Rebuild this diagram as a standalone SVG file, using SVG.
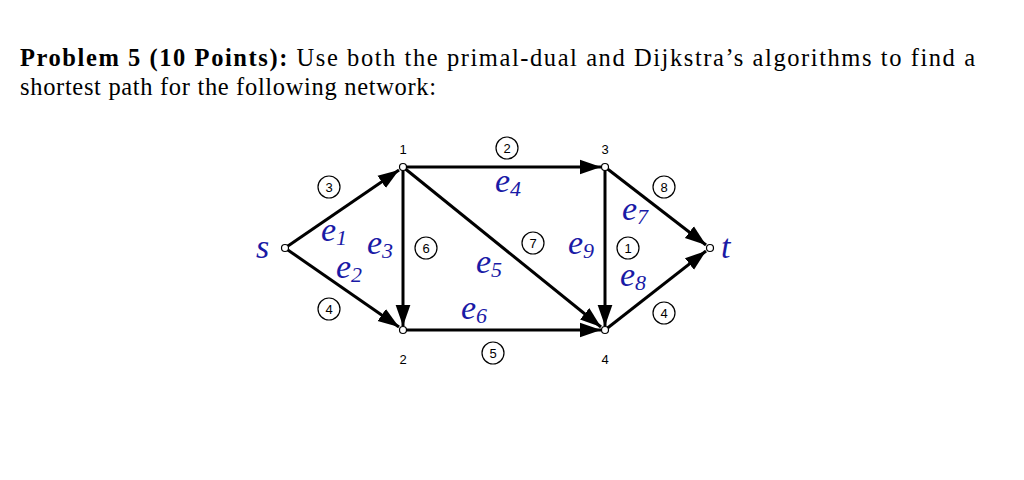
<svg xmlns="http://www.w3.org/2000/svg" width="1024" height="480" viewBox="0 0 1024 480">
<style>
.hd{font-family:"Liberation Serif",serif;font-size:24.5px;fill:#000}
.e{stroke:#000;stroke-width:3;fill:none}
.n{fill:#fff;stroke:#000;stroke-width:1.2}
.w{fill:#fff;stroke:#000;stroke-width:1.2}
.wt{font-family:"Liberation Sans",sans-serif;font-size:13px;text-anchor:middle;fill:#000}
.nl{font-family:"Liberation Sans",sans-serif;font-size:13px;text-anchor:middle;fill:#000}
.el{font-family:"Liberation Serif",serif;font-style:italic;font-size:34px;fill:#1a1aa6}
.sub{font-size:22px}
</style>
<defs>
<marker id="ah" viewBox="0 0 10 10" refX="10" refY="5" markerWidth="7" markerHeight="7" markerUnits="strokeWidth" orient="auto">
<path d="M0,1.5 L10,5 L0,8.5 z" fill="#000"/>
</marker>
</defs>
<rect width="1024" height="480" fill="#fff"/>
<text class="hd" x="20" y="66" textLength="955" lengthAdjust="spacing"><tspan font-weight="bold">Problem 5 (10 Points):</tspan> Use both the primal-dual and Dijkstra’s algorithms to find a</text>
<text class="hd" x="20" y="95" textLength="416" lengthAdjust="spacing">shortest path for the following network:</text>
<g id="edges">
<line class="e" x1="285" y1="248" x2="399" y2="170" marker-end="url(#ah)"/>
<line class="e" x1="285" y1="248" x2="399" y2="327" marker-end="url(#ah)"/>
<line class="e" x1="403" y1="167" x2="403" y2="326" marker-end="url(#ah)"/>
<line class="e" x1="403" y1="167" x2="601" y2="167" marker-end="url(#ah)"/>
<line class="e" x1="403" y1="167" x2="601" y2="327" marker-end="url(#ah)"/>
<line class="e" x1="403" y1="330" x2="601" y2="330" marker-end="url(#ah)"/>
<line class="e" x1="605" y1="167" x2="706" y2="245" marker-end="url(#ah)"/>
<line class="e" x1="605" y1="330" x2="706" y2="251" marker-end="url(#ah)"/>
<line class="e" x1="605" y1="167" x2="605" y2="326" marker-end="url(#ah)"/>
</g>
<g id="s"><circle class="n" cx="285" cy="248" r="3.5"/><text class="el" x="256" y="258">s</text></g>
<g id="n1"><circle class="n" cx="403" cy="167" r="3.5"/><text class="nl" x="403" y="154">1</text></g>
<g id="n2"><circle class="n" cx="403" cy="330" r="3.5"/><text class="nl" x="403" y="364">2</text></g>
<g id="n3"><circle class="n" cx="605" cy="167" r="3.5"/><text class="nl" x="605" y="154">3</text></g>
<g id="n4"><circle class="n" cx="605" cy="330" r="3.5"/><text class="nl" x="605" y="364">4</text></g>
<g id="t"><circle class="n" cx="710" cy="248" r="3.5"/><text class="el" x="721" y="258">t</text></g>
<g id="weights">
<circle class="w" cx="329" cy="187" r="11"/><text class="wt" x="329" y="192">3</text>
<circle class="w" cx="329" cy="309" r="11"/><text class="wt" x="329" y="314">4</text>
<circle class="w" cx="426" cy="248" r="11"/><text class="wt" x="426" y="253">6</text>
<circle class="w" cx="507" cy="148" r="11"/><text class="wt" x="507" y="153">2</text>
<circle class="w" cx="533" cy="243" r="11"/><text class="wt" x="533" y="248">7</text>
<circle class="w" cx="493" cy="353" r="11"/><text class="wt" x="493" y="358">5</text>
<circle class="w" cx="664" cy="187" r="11"/><text class="wt" x="664" y="192">8</text>
<circle class="w" cx="628" cy="248" r="11"/><text class="wt" x="628" y="253">1</text>
<circle class="w" cx="664" cy="313" r="11"/><text class="wt" x="664" y="318">4</text>
</g>
<g id="labels">
<text class="el" x="321" y="241">e<tspan class="sub" dy="4">1</tspan></text>
<text class="el" x="367" y="254">e<tspan class="sub" dy="4">3</tspan></text>
<text class="el" x="336" y="278">e<tspan class="sub" dy="4">2</tspan></text>
<text class="el" x="495" y="192">e<tspan class="sub" dy="4">4</tspan></text>
<text class="el" x="476" y="273">e<tspan class="sub" dy="4">5</tspan></text>
<text class="el" x="461" y="319">e<tspan class="sub" dy="4">6</tspan></text>
<text class="el" x="622" y="220">e<tspan class="sub" dy="4">7</tspan></text>
<text class="el" x="568" y="254">e<tspan class="sub" dy="4">9</tspan></text>
<text class="el" x="620" y="286">e<tspan class="sub" dy="4">8</tspan></text>
</g>
</svg>
